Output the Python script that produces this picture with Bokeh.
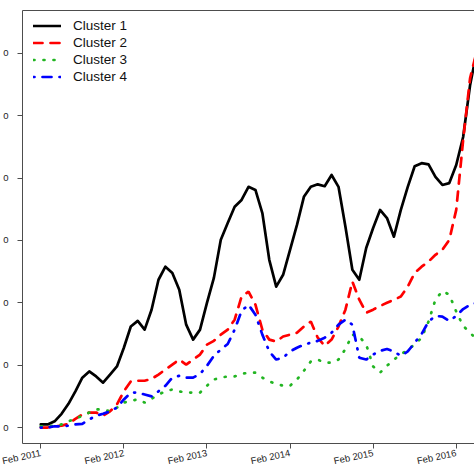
from bokeh.plotting import figure
from bokeh.models import Range1d, FixedTicker, LinearAxis, Legend, LegendItem
from bokeh.embed import file_html
from bokeh.resources import INLINE

# month index since Feb 2011
months = list(range(64))
tick_months = [0, 12, 24, 36, 48, 60]
tick_labels = ["Feb 2011", "Feb 2012", "Feb 2013", "Feb 2014", "Feb 2015", "Feb 2016"]
y_ticks = [0, 100, 200, 300, 400, 500, 600]
y_tick_labels = ["0", "0", "0", "0", "0", "0", "0"]

cluster1 = [5, 5, 10, 22, 38, 58, 80, 90, 82, 72, 85, 98, 128, 162, 171, 157, 189, 237, 258, 248,
            221, 165, 141, 157, 200, 240, 301, 328, 354, 365, 386, 381, 344, 269, 226, 245, 285, 325, 370, 386,
            390, 387, 405, 386, 322, 253, 237, 288, 320, 349, 336, 306, 349, 386, 419, 424, 422, 402, 389, 392,
            421, 466, 549, 605]
cluster2 = [0, 0, 2, 3, 6, 14, 21, 24, 24, 19, 26, 37, 58, 74, 75, 75, 78, 85, 93, 101,
            109, 101, 109, 117, 133, 139, 149, 157, 173, 210, 218, 197, 157, 141, 138, 146, 149, 152, 162, 170,
            144, 131, 141, 162, 189, 234, 205, 184, 189, 195, 200, 205, 210, 226, 248, 258, 266, 277, 285, 301,
            349, 461, 560, 605]
cluster3 = [2, 2, 3, 5, 10, 14, 19, 24, 29, 29, 26, 32, 40, 43, 45, 40, 46, 53, 58, 61,
            58, 56, 56, 56, 67, 77, 80, 82, 82, 86, 88, 88, 80, 74, 70, 67, 67, 77, 91, 106,
            109, 104, 104, 109, 126, 149, 146, 133, 98, 88, 99, 109, 117, 125, 133, 144, 170, 205, 219, 213,
            186, 163, 152, 141]
cluster4 = [0, 0, 2, 2, 3, 5, 6, 13, 19, 22, 26, 32, 45, 56, 56, 53, 50, 58, 67, 80,
            83, 80, 80, 86, 99, 115, 125, 134, 157, 187, 197, 181, 149, 122, 109, 112, 122, 128, 133, 136,
            139, 144, 152, 165, 173, 165, 112, 109, 117, 123, 126, 122, 115, 122, 136, 150, 170, 179, 178, 171,
            179, 190, 197, 200]

names = ["Cluster 1", "Cluster 2", "Cluster 3", "Cluster 4"]
FONT = "Liberation Sans"
AXIS_COL = "#4d4d4d"

p = figure(width=474, height=474, output_backend="svg", toolbar_location=None,
           x_range=Range1d(-2.64, 62.64), y_range=Range1d(-25.6, 668.8),
           min_border_left=21, min_border_right=0, min_border_top=10, min_border_bottom=30)
p.outline_line_color = None
p.grid.visible = False
p.background_fill_color = "white"
p.border_fill_color = "white"

r1 = p.line(months, cluster1, line_color="black", line_width=2.7, line_join="round", line_cap="round")
r2 = p.line(months, cluster2, line_color="#ff0000", line_width=2.7, line_dash="9 8", line_cap="round")
r3 = p.line(months, cluster3, line_color="#22b522", line_width=2.7, line_dash="1 9", line_cap="round")
r4 = p.line(months, cluster4, line_color="#0000ff", line_width=2.7, line_dash="1 8 9 8", line_cap="round")

xa = p.xaxis[0]
xa.ticker = FixedTicker(ticks=tick_months)
xa.major_label_overrides = {m: l for m, l in zip(tick_months, tick_labels)}
xa.major_label_orientation = 0.21
xa.minor_tick_line_color = None
xa.major_tick_in = 0
xa.major_tick_out = 5
xa.major_label_standoff = 4
xa.major_label_text_font = FONT
xa.major_label_text_font_size = "9.5px"
xa.major_label_text_color = "#222222"
xa.axis_line_color = AXIS_COL
xa.major_tick_line_color = AXIS_COL

ya = p.yaxis[0]
ya.ticker = FixedTicker(ticks=y_ticks)
ya.major_label_overrides = {t: l for t, l in zip(y_ticks, y_tick_labels)}
ya.minor_tick_line_color = None
ya.major_tick_in = 0
ya.major_tick_out = 5
ya.major_label_standoff = 9
ya.major_label_text_font = FONT
ya.major_label_text_font_size = "9.5px"
ya.major_label_text_color = "#222222"
ya.axis_line_color = AXIS_COL
ya.major_tick_line_color = AXIS_COL

top = LinearAxis(ticker=FixedTicker(ticks=[]), major_label_text_font_size="0px",
                 major_tick_in=0, major_tick_out=0, minor_tick_line_color=None,
                 axis_line_color=AXIS_COL)
p.add_layout(top, "above")

legend = Legend(items=[LegendItem(label=n, renderers=[r]) for n, r in zip(names, [r1, r2, r3, r4])],
                location=(11, 358), padding=0, margin=0, spacing=0,
                glyph_width=28, glyph_height=17, label_height=17, label_standoff=12,
                label_text_font=FONT, label_text_font_size="13.5px", label_text_color="#111111",
                background_fill_alpha=0, border_line_color=None)
p.add_layout(legend, "center")

open("out.html", "w").write(file_html(p, INLINE))
